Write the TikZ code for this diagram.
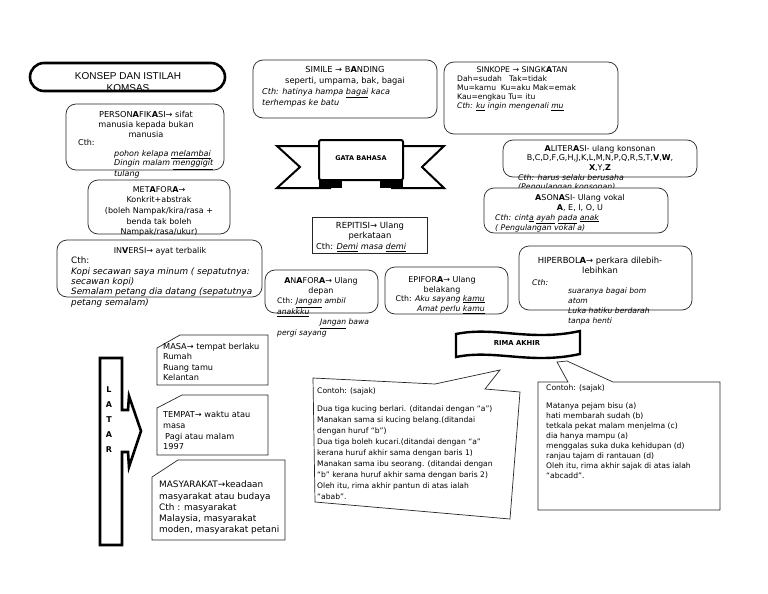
\documentclass[tikz,border=0pt]{standalone}
\usepackage{fontspec}
\setmainfont{DejaVu Sans}
\newfontfamily\konsepfont{Liberation Sans}
\newcommand\myfs[2]{\fontsize{#1}{#2}\selectfont}
\newcommand\bA{\textbf{A}}
\begin{document}
\begin{tikzpicture}[x=1pt,y=-1pt,
  box/.style={draw=black!85, line width=0.7pt, fill=white, rounded corners=10pt},
  sqbox/.style={draw=black!85, line width=0.7pt, fill=white},
  heavy/.style={draw=black, line width=2.4pt, fill=white, line join=miter},
  tl/.style={inner sep=0pt, anchor=north west, align=left},
  tc/.style={inner sep=0pt, anchor=north, align=center},
  tr/.style={inner sep=0pt, anchor=north east, align=right}]
\fill[white] (0,0) rectangle (768,594);
\useasboundingbox (0,0) rectangle (768,594);

% ---------- KONSEP ----------
\begin{scope}
\clip[rounded corners=14pt] (30,63) rectangle (225,91);
\node[tc, font=\konsepfont\myfs{10}{12.5}] (konsep) at (128,72) {KONSEP DAN ISTILAH\\KOMSAS};
\end{scope}
\draw[line width=2.6pt, rounded corners=14pt] (30,63) rectangle (225,91);

% ---------- PERSONAFIKASI ----------
\draw[box] (66,104) rectangle (224,170);
\node[tc, font=\myfs{8.2}{10}] (persT) at (146,111) {PERSON\bA FIK\bA SI→ sifat\\manusia kepada bukan\\manusia};
\node[tl, font=\myfs{8}{10}] (persC) at (78,139) {Cth:};
\node[tl, font=\myfs{8}{9.7}\itshape] (persE) at (114,150) {pohon kelapa \underline{melambai}\\Dingin malam \underline{menggigit}\\tulang};

% ---------- SIMILE ----------
\draw[box] (253,60) rectangle (437,118);
\node[tc, font=\myfs{8.3}{11}] (simT) at (345,66) {SIMILE → B\bA NDING\\seperti, umpama, bak, bagai};
\node[tl, font=\myfs{8.1}{11}\itshape] (simC) at (262,88) {Cth: hatinya hampa \underline{bagai} kaca\\terhempas ke batu};

% ---------- SINKOPE ----------
\draw[box] (444,62) rectangle (618,134);
\node[tc, font=\myfs{7.8}{9}] (sinT) at (522,67) {SINKOPE → SINGK\bA TAN};
\node[tl, font=\myfs{7.6}{9}] (sinC) at (457,76) {Dah=sudah\ \ \ Tak=tidak\\Mu=kamu\ \ Ku=aku Mak=emak\\Kau=engkau Tu= itu\\{\itshape Cth: \underline{ku} ingin mengenali \underline{mu}}};

% ---------- GATA BAHASA ribbon ----------
\draw[heavy, line width=2pt] (277,146) -- (330,146) -- (330,188) -- (277,188) -- (300,167) -- cycle;
\draw[heavy, line width=2pt] (444,146) -- (392,146) -- (392,188) -- (444,188) -- (422,167) -- cycle;
\fill[black] (319,179) rectangle (342,188);
\fill[black] (380,179) rectangle (403,188);
\draw[line width=2pt, fill=white, rounded corners=2pt] (319,140) rectangle (403,180);
\node[inner sep=0pt, font=\myfs{6.5}{8}\bfseries] (gata) at (361,158) {GATA BAHASA};

% ---------- ALITERASI ----------
\draw[box] (503,140) rectangle (697,177);
\node[tc, font=\myfs{8}{9.5}] (aliT) at (600,145) {\bA LITER\bA SI- ulang konsonan\\B,C,D,F,G,H,J,K,L,M,N,P,Q,R,S,T,\textbf{V},\textbf{W},\\\textbf{X},Y,\textbf{Z}};
\node[tl, font=\myfs{7.8}{9.5}\itshape] (aliC) at (518,174) {Cth: harus selalu berusaha\\(Pengulangan konsonan)};

% ---------- ASONASI ----------
\draw[box] (484,188) rectangle (668,233);
\node[tc, font=\myfs{8}{10}] (asoT) at (580,194) {\bA SON\bA SI- Ulang vokal\\\textbf{A}, E, I, O, U};
\node[tl, font=\myfs{7.8}{10}\itshape] (asoC) at (495,214) {Cth: cint\underline{a} \underline{ayah} \underline{pada} \underline{anak}\\( Pengulangan vokal a)};

% ---------- METAFORA ----------
\draw[box] (88,180) rectangle (230,234);
\node[tc, font=\myfs{8}{10.7}] (metT) at (159,186) {MET\bA FOR\bA→\\Konkrit+abstrak\\(boleh Nampak/kira/rasa +\\benda tak boleh\\Nampak/rasa/ukur)};

% ---------- INVERSI ----------
\draw[box] (57,240) rectangle (262,297);
\node[tc, font=\myfs{8}{10}] (invT) at (160,247) {IN\textbf{V}ERSI→ ayat terbalik};
\node[tl, font=\myfs{8.8}{10.3}] (invC) at (71,257) {Cth:\\{\itshape Kopi secawan saya minum ( sepatutnya:}\\{\itshape secawan kopi)}\\{\itshape Semalam petang dia datang (sepatutnya}\\{\itshape petang semalam)}};

% ---------- REPITISI ----------
\draw[sqbox] (312,217) rectangle (427,253);
\node[tc, font=\myfs{8.4}{10}] (repT) at (370,222) {REPITISI→ Ulang\\perkataan};
\node[tl, font=\myfs{8.2}{10}] (repC) at (316,243) {Cth: {\itshape\underline{Demi} masa \underline{demi}}};

% ---------- ANAFORA ----------
\draw[box] (265,270) rectangle (378,313);
\node[tc, font=\myfs{8}{10.5}] (anaT) at (321,277) {\bA N\bA FOR\bA→ Ulang\\depan};
\node[tl, font=\myfs{7.6}{10.3}] (anaC) at (277,298) {Cth: {\itshape\underline{Jangan} ambil}\\{\itshape\underline{anakkku}}};
\node[tl, font=\myfs{7.6}{10}\itshape] (anaD) at (320,319) {\underline{Jangan} bawa};
\node[tl, font=\myfs{7.6}{10}\itshape] (anaE) at (277,330) {pergi sayang};

% ---------- EPIFORA ----------
\draw[box] (385,267) rectangle (508,314);
\node[tc, font=\myfs{8}{10}] (epiT) at (442,276) {EPIFOR\bA→ Ulang\\belakang};
\node[tr, font=\myfs{7.8}{10.5}] (epiC) at (485,295) {Cth: {\itshape Aku sayang \underline{kamu}}\\{\itshape Amat perlu \underline{kamu}}};

% ---------- HIPERBOLA ----------
\draw[box] (519,246) rectangle (692,310);
\node[tc, font=\myfs{8.4}{10}] (hipT) at (600,257) {HIPERBOL\bA→ perkara dilebih-\\lebihkan};
\node[tl, font=\myfs{7.8}{10}\itshape] (hipC) at (532,279) {Cth:};
\node[tl, font=\myfs{7.6}{10}\itshape] (hipE) at (568,288) {suaranya bagai bom\\atom\\Luka hatiku berdarah\\tanpa henti};

% ---------- LATAR ----------
\draw[heavy, line width=2.6pt] (100,358) -- (122,358) -- (122,410) -- (128,410) -- (129,396) -- (141,431) -- (129,467) -- (128,452) -- (122,452) -- (122,545) -- (100,545) -- cycle;
\node[tc, font=\myfs{8}{15}\bfseries] (latar) at (109,386) {L\\A\\T\\A\\R};

\draw[sqbox] (157,348) -- (180,335) -- (268,335) -- (268,385) -- (157,385) -- cycle;
\node[tl, font=\myfs{8.2}{10.3}] (masa) at (163,343) {MASA→ tempat berlaku\\Rumah\\Ruang tamu\\Kelantan};

\draw[sqbox] (157,408) -- (182,395) -- (268,395) -- (268,455) -- (157,455) -- cycle;
\node[tl, font=\myfs{8.2}{10.8}] (tempat) at (163,411) {TEMPAT→ waktu atau\\masa\\\hspace*{2pt}Pagi atau malam\\1997};

\draw[sqbox] (152,477) -- (178,460) -- (285,460) -- (285,540) -- (152,540) -- cycle;
\node[tl, font=\myfs{8.9}{11.2}] (masy) at (159,481) {MASYARAKAT→keadaan\\masyarakat atau budaya\\Cth : masyarakat\\Malaysia, masyarakat\\moden, masyarakat petani};

% ---------- RIMA AKHIR ----------
\draw[line width=2.4pt, fill=white] (456,334) .. controls (495,326) and (530,342) .. (580,331) -- (580,354) .. controls (530,365) and (495,349) .. (456,357) -- cycle;
\node[inner sep=0pt, font=\myfs{6.8}{8}\bfseries] (rima) at (517,343) {RIMA AKHIR};

% callout 1
\draw[sqbox] (313,378) -- (435,384) -- (500,370) -- (485,389) -- (520,392) -- (510,519) -- (315,502) -- cycle;
\node[tl, font=\myfs{7.6}{10}] (c1h) at (317,388) {Contoh: (sajak)};
\node[tl, font=\myfs{7.6}{10.9}] (c1) at (317,406) {Dua tiga kucing berlari. (ditandai dengan “a”)\\Manakan sama si kucing belang.(ditandai\\dengan huruf “b”)\\Dua tiga boleh kucari.(ditandai dengan “a”\\kerana huruf akhir sama dengan baris 1)\\Manakan sama ibu seorang. (ditandai dengan\\“b” kerana huruf akhir sama dengan baris 2)\\Oleh itu, rima akhir pantun di atas ialah\\“abab”.};

% callout 2
\draw[sqbox] (538,382) -- (568,382) -- (557,362) -- (567,361) -- (613,382) -- (720,382) -- (720,510) -- (538,510) -- cycle;
\node[tl, font=\myfs{7.6}{10}] (c2h) at (546,385) {Contoh: (sajak)};
\node[tl, font=\myfs{7.6}{10}] (c2) at (546,403) {Matanya pejam bisu (a)\\hati membarah sudah (b)\\tetkala pekat malam menjelma (c)\\dia hanya mampu (a)\\menggalas suka duka kehidupan (d)\\ranjau tajam di rantauan (d)\\Oleh itu, rima akhir sajak di atas ialah\\“abcadd”.};
\end{tikzpicture}
\end{document}
